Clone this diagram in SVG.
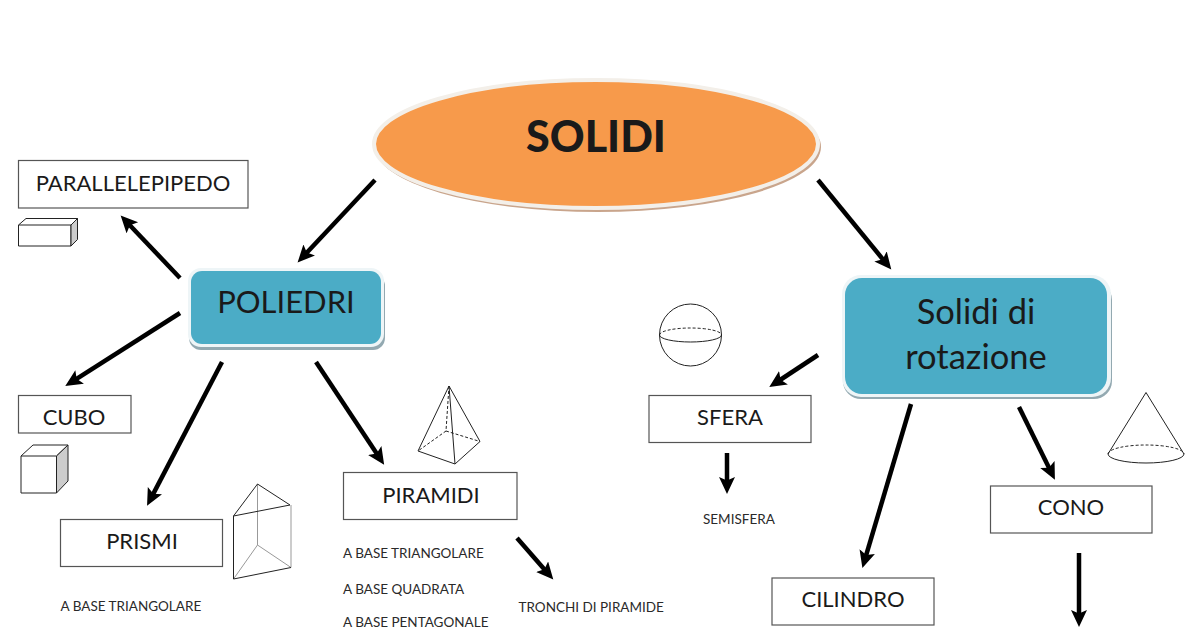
<svg xmlns="http://www.w3.org/2000/svg" width="1200" height="630" viewBox="0 0 1200 630">
<style>
text{font-family:"Lato","Carlito","Open Sans",sans-serif;fill:#1a1a1a;text-anchor:middle}
.box{fill:#fff;stroke:#555;stroke-width:1.2}
.lbl{font-size:22px}
.small{font-size:13.500px;text-anchor:start;fill:#2a2a2a}
.big{font-size:31px}
.big2{font-size:34.500px}
.c{stroke:#000;stroke-width:4.500;fill:none;marker-end:url(#ah)}
.g{fill:none;stroke:#222;stroke-width:1}
.gl{fill:none;stroke:#999;stroke-width:1}
.d{fill:none;stroke:#222;stroke-width:1;stroke-dasharray:3 2}
.blue{fill:#4bacc6}
.halo{fill:#eef5f7}
.shade{fill:#93a9b1}
</style>
<defs>
<marker id="ah" markerUnits="userSpaceOnUse" markerWidth="20" markerHeight="18" refX="5" refY="8" orient="auto"><path d="M0 0L17 8L0 16L3.500 8Z" fill="#000"/></marker>
</defs>
<rect width="1200" height="630" fill="#fff"/>
<g id="connectors">
<line class="c" x1="375" y1="180" x2="305.800" y2="253.700"/>
<line class="c" x1="180" y1="278" x2="128.900" y2="224.200"/>
<line class="c" x1="180" y1="313" x2="75.400" y2="379.600"/>
<line class="c" x1="222" y1="362" x2="152.600" y2="495.100"/>
<line class="c" x1="316" y1="362" x2="377.500" y2="454.700"/>
<line class="c" x1="517" y1="538" x2="545.400" y2="570.500"/>
<line class="c" x1="818" y1="355" x2="779.300" y2="380.500"/>
<line class="c" x1="818" y1="180" x2="883.700" y2="260.300"/>
<line class="c" x1="911" y1="404" x2="865.800" y2="556.400"/>
<line class="c" x1="1019" y1="407" x2="1049.600" y2="469"/>
<line class="c" x1="727" y1="453" x2="727" y2="482"/>
<line class="c" x1="1079" y1="553" x2="1079" y2="615"/>
</g>
<g id="solidi">
<ellipse cx="598" cy="147" rx="223" ry="65" fill="#c9a58c"/>
<ellipse cx="596" cy="144" rx="222" ry="64" fill="#f79a4b" stroke="#f3efe9" stroke-width="4"/>
<text x="596" y="152" font-size="43" style="font-weight:900" fill="#000">SOLIDI</text>
</g>
<g id="poliedri">
<rect x="189" y="274" width="196" height="76" rx="12" class="shade"/>
<rect x="188" y="268" width="196" height="79" rx="13" class="halo"/>
<rect x="191" y="271" width="190" height="73" rx="11" class="blue"/>
<text x="286" y="313" class="big">POLIEDRI</text>
</g>
<g id="rotazione">
<rect x="843" y="282" width="269" height="117" rx="18" class="shade"/>
<rect x="842" y="275" width="269" height="122" rx="19" class="halo"/>
<rect x="845" y="278" width="262" height="116" rx="17" class="blue"/>
<text x="976" y="324" class="big2">Solidi di</text>
<text x="976" y="369" class="big2">rotazione</text>
</g>
<g id="parallelepipedo">
<rect x="18.500" y="160.500" width="229.500" height="47.500" class="box"/>
<text x="133" y="191" class="lbl">PARALLELEPIPEDO</text>
<path class="g" d="M18.500 225H71V246H18.500ZM18.500 225L26 218.500H77.500L71 225"/>
<path d="M71 225L77.500 218.500V239.500L71 246Z" fill="#ccc" stroke="#222"/>
</g>
<g id="cubo">
<rect x="18.500" y="395.500" width="112.500" height="37.500" class="box"/>
<text x="74" y="425" class="lbl">CUBO</text>
<path class="g" d="M21 456H56.500V493H21ZM21 456L33 445H68L56.500 456"/>
<path d="M56.500 456L68 445V481L56.500 493Z" fill="#ccc" stroke="#222"/>
</g>
<g id="prismi">
<rect x="60.500" y="519.500" width="162" height="47" class="box"/>
<text x="142" y="549" class="lbl">PRISMI</text>
<path class="gl" d="M257.500 484V545M233.500 579L257.500 545L291 567.500M291 505V567.500"/>
<path class="g" d="M233.500 516L257.500 484L290 505L233.500 516V579L291 567.500"/>
<text x="60.500" y="611" class="small">A BASE TRIANGOLARE</text>
</g>
<g id="piramidi">
<rect x="343.500" y="472.500" width="173.500" height="47" class="box"/>
<text x="431" y="503" class="lbl">PIRAMIDI</text>
<path class="g" d="M449 386L418 451L455 464L480 441.500ZM449 386L455 464"/>
<path class="d" d="M449 386L446 431L418 451M446 431L480 441.500"/>
<text x="343" y="558" class="small">A BASE TRIANGOLARE</text>
<text x="343" y="594" class="small">A BASE QUADRATA</text>
<text x="343" y="626.500" class="small">A BASE PENTAGONALE</text>
<text x="518.500" y="612" class="small">TRONCHI DI PIRAMIDE</text>
</g>
<g id="sfera">
<rect x="649" y="395.500" width="162" height="47" class="box"/>
<text x="730" y="425" class="lbl">SFERA</text>
<circle cx="690.500" cy="335" r="31" class="g"/>
<path class="g" d="M659.500 335A31 7 0 0 0 721.500 335"/>
<path class="d" d="M659.500 335A31 7 0 0 1 721.500 335"/>
<text x="703" y="524" class="small">SEMISFERA</text>
</g>
<g id="cilindro">
<rect x="772" y="578" width="162" height="47" class="box"/>
<text x="853" y="607" class="lbl">CILINDRO</text>
</g>
<g id="cono">
<rect x="990.500" y="486" width="161.500" height="47" class="box"/>
<text x="1071" y="515" class="lbl">CONO</text>
<path class="g" d="M1108 454L1146 392.500L1184 454A38 9 0 0 1 1108 454Z"/>
<path class="d" d="M1108 454A38 9 0 0 1 1184 454"/>
</g>
</svg>
